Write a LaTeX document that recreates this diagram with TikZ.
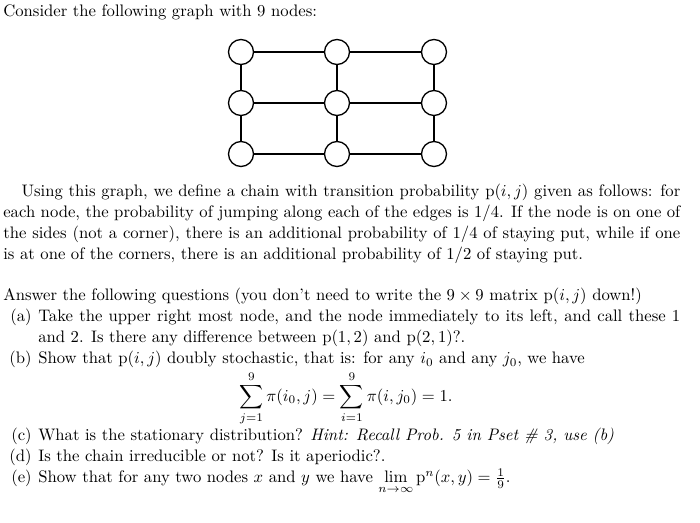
\documentclass[tikz,border=0pt]{standalone}
\usepackage{amsmath}
\begin{document}
\begin{tikzpicture}[x=0.6pt,y=-0.6pt,
  vtx/.style={circle,draw,thick,minimum size=15pt,inner sep=0pt},
  edge/.style={thick},
  txt/.style={inner sep=0pt,align=justify,text width=677*0.6pt,font=\fontsize{10}{12.6}\selectfont}]
\useasboundingbox (0,0) rectangle (700,523);
\node[anchor=base west,inner sep=0pt] (t1) at (3,17) {Consider the following graph with 9 nodes:};
\foreach \c/\x in {1/241,2/337,3/434}{
  \foreach \r/\y in {1/52,2/103,3/154}{
    \node[vtx] (n\r\c) at (\x,\y) {};
  }
}
\foreach \r in {1,2,3}{\draw[edge] (n\r1)--(n\r2) (n\r2)--(n\r3);}
\foreach \c in {1,2,3}{\draw[edge] (n1\c)--(n2\c) (n2\c)--(n3\c);}
\node[txt,anchor=north west] (p1) at (3,184) {\parindent=11pt\indent Using this graph, we define a chain with transition probability $\mathrm{p}(i,j)$ given as follows: for\linebreak
each node, the probability of jumping along each of the edges is 1/4. If the node is on one of\linebreak
the sides (not a corner), there is an additional probability of 1/4 of staying put, while if one\linebreak
is at one of the corners, there is an additional probability of 1/2 of staying put.};
\node[txt,anchor=north west] (p2) at (3,288) {%
\abovedisplayskip=1pt\belowdisplayskip=1pt
Answer the following questions (you don't need to write the $9\times 9$ matrix $\mathrm{p}(i,j)$ down!)
\begin{list}{}{\leftmargin=21pt\labelwidth=17pt\labelsep=4pt\itemsep=0pt\topsep=0pt\parsep=0pt\partopsep=0pt}
\item[(a)] Take the upper right most node, and the node immediately to its left, and call these 1 and 2. Is there any difference between $\mathrm{p}(1,2)$ and $\mathrm{p}(2,1)$?.
\item[(b)] Show that $\mathrm{p}(i,j)$ doubly stochastic, that is: for any $i_0$ and any $j_0$, we have
\[\hspace*{-16pt}\sum_{j=1}^{9}\pi(i_0,j)=\sum_{i=1}^{9}\pi(i,j_0)=1.\]
\item[(c)] What is the stationary distribution? \emph{Hint: Recall Prob. 5 in Pset \# 3, use (b)}
\item[(d)] Is the chain irreducible or not? Is it aperiodic?.
\item[(e)] Show that for any two nodes $x$ and $y$ we have $\lim\limits_{n\to\infty}\mathrm{p}^n(x,y)=\frac{1}{9}$.
\end{list}};
\end{tikzpicture}
\end{document}
